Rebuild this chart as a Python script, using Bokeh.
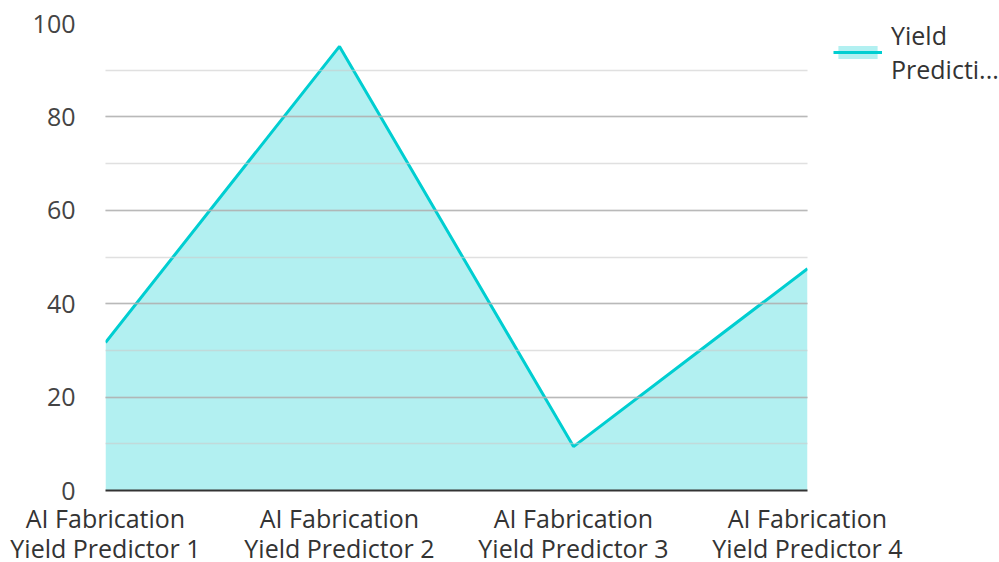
from bokeh.plotting import figure
from bokeh.models import (Range1d, FixedTicker, SingleIntervalTicker, Legend, LegendItem,
                          ColumnDataSource)
from bokeh.embed import file_html
from bokeh.resources import INLINE

categories = ["AI Fabrication Yield Predictor 1", "AI Fabrication Yield Predictor 2",
              "AI Fabrication Yield Predictor 3", "AI Fabrication Yield Predictor 4"]
tick_labels = ["AI Fabrication\nYield Predictor 1", "AI Fabrication\nYield Predictor 2",
               "AI Fabrication\nYield Predictor 3", "AI Fabrication\nYield Predictor 4"]
values = [31.7, 95.1, 9.4, 47.5]
series_name = "Yield\nPredicti..."

FONT = "Open Sans"
LINE = "#00CED1"
FS = "25px"

xs = list(range(len(categories)))
src = ColumnDataSource(dict(x=xs, y=values, y0=[0] * len(values)))

p = figure(frame_width=702, frame_height=467, output_backend="svg", toolbar_location=None,
           x_range=Range1d(0, len(categories) - 1), y_range=Range1d(0, 100),
           min_border_left=105, min_border_right=0, min_border_top=23, min_border_bottom=72)
p.outline_line_color = None
p.background_fill_color = "white"

area = p.varea(x="x", y1="y0", y2="y", source=src, fill_color=LINE, fill_alpha=0.3)
line = p.line(x="x", y="y", source=src, line_color=LINE, line_width=3)

p.xgrid.visible = False
p.ygrid.ticker = SingleIntervalTicker(interval=20, num_minor_ticks=2)
p.ygrid.grid_line_color = "#a8a8a8"
p.ygrid.grid_line_width = 1.5
p.ygrid.minor_grid_line_color = "#cccccc"
p.ygrid.minor_grid_line_width = 1.5
p.ygrid.level = "overlay"
p.ygrid.grid_line_alpha = 0.7
p.ygrid.minor_grid_line_alpha = 0.6

yax = p.yaxis[0]
yax.ticker = SingleIntervalTicker(interval=20)
yax.axis_line_color = None
yax.major_tick_line_color = None
yax.minor_tick_line_color = None
yax.major_label_text_font = FONT
yax.major_label_text_font_size = FS
yax.major_label_text_color = "#444444"
yax.major_label_standoff = 24

xax = p.xaxis[0]
xax.ticker = FixedTicker(ticks=xs)
xax.major_label_overrides = {i: t for i, t in enumerate(tick_labels)}
xax.axis_line_color = "#333333"
xax.axis_line_width = 2
xax.major_tick_line_color = None
xax.minor_tick_line_color = None
xax.major_label_text_font = FONT
xax.major_label_text_font_size = FS
xax.major_label_text_color = "#333333"
xax.major_label_text_line_height = 0.9
xax.major_label_standoff = 4

legend = Legend(items=[LegendItem(label=series_name, renderers=[area, line])],
                location=(26, 404), label_text_font=FONT, label_text_font_size=FS,
                label_text_color="#333333", label_text_line_height=1.1,
                border_line_color=None,
                background_fill_alpha=0, glyph_width=49, glyph_height=16,
                margin=0, padding=0, label_standoff=9)
p.add_layout(legend, "right")

open("out.html", "w").write(file_html(p, INLINE))
